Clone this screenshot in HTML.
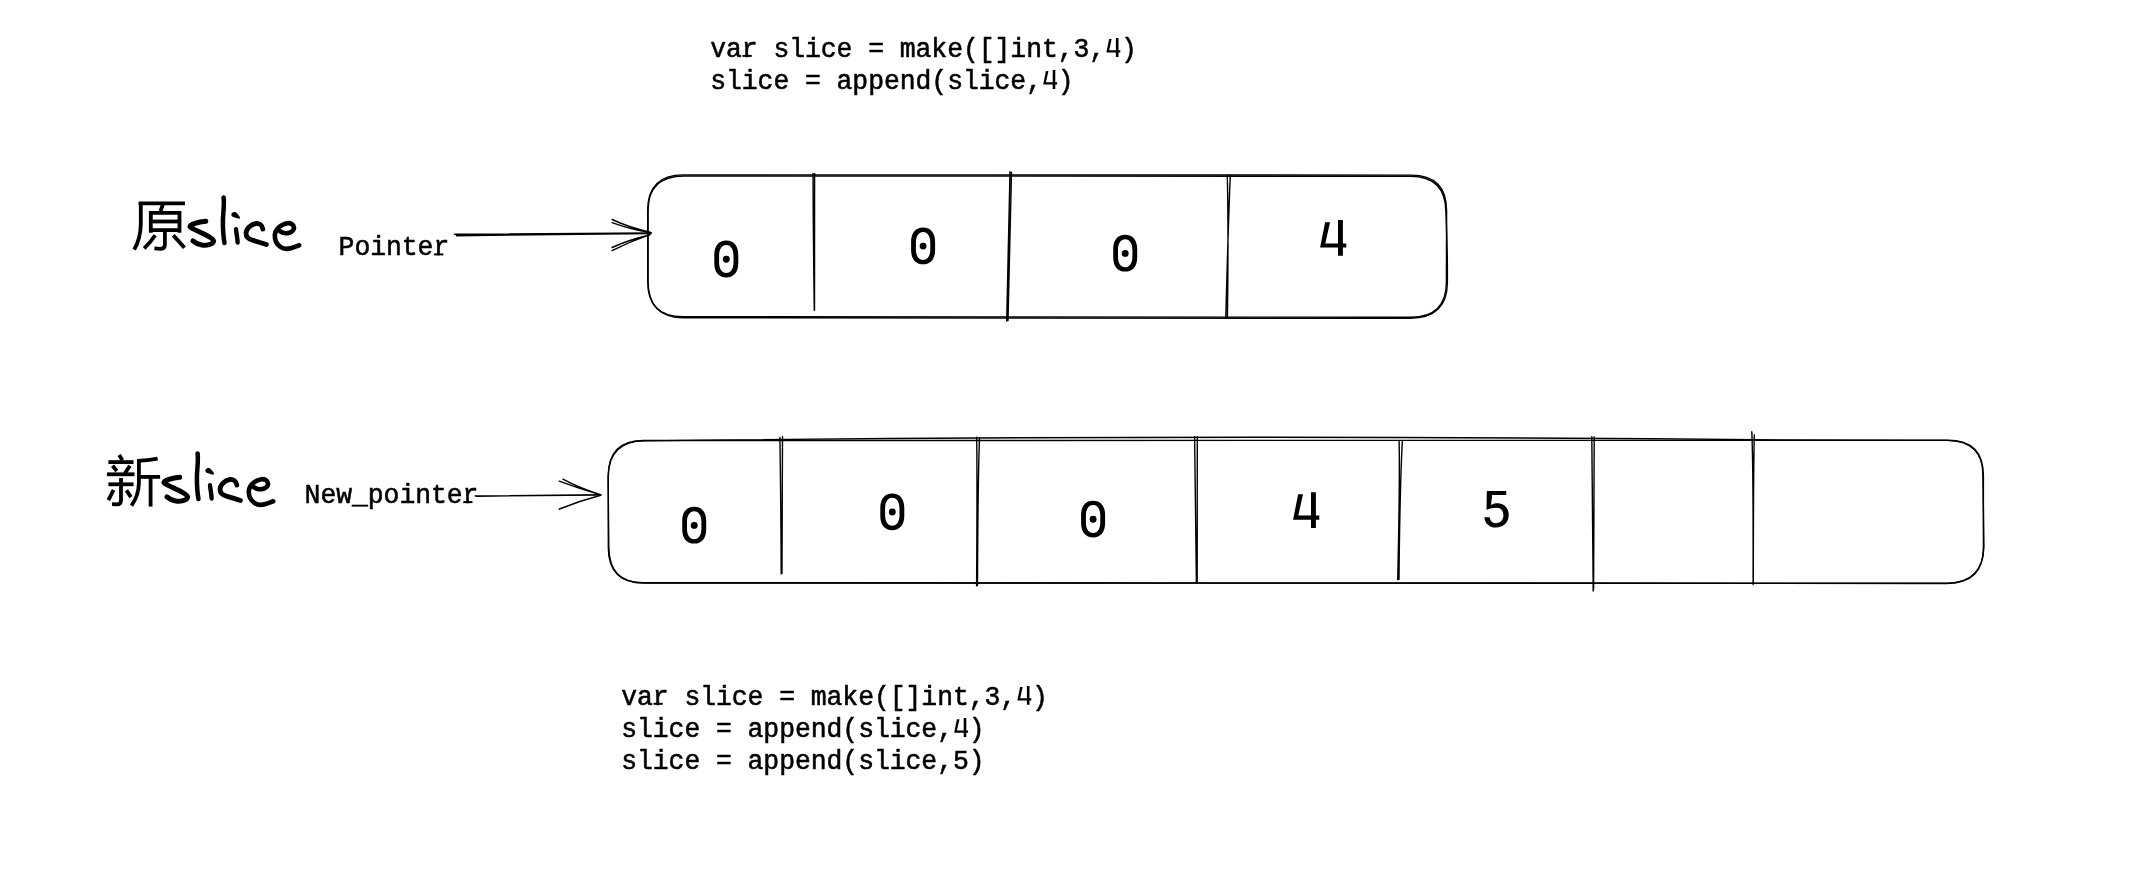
<!DOCTYPE html>
<html>
<head>
<meta charset="utf-8">
<title>slice append diagram</title>
<style>
  html, body { margin: 0; padding: 0; background: #ffffff; }
  body { width: 2138px; height: 879px; overflow: hidden; position: relative; font-family: "Liberation Mono", monospace; }
  svg { position: absolute; left: 0; top: 0; display: block; will-change: transform; }
  .code { font-family: "Liberation Mono", monospace; font-size: 26.45px; fill: #000; stroke: #000; stroke-width: 0.55px; stroke-linejoin: round; white-space: pre; letter-spacing: -0.07px; }
  .ln { fill: none; stroke: #000; stroke-width: 1.4; stroke-linecap: round; stroke-linejoin: round; }
  .hw { fill: none; stroke: #000; stroke-width: 4.3; stroke-linecap: round; stroke-linejoin: round; }
  .cjk { fill: none; stroke: #000; stroke-width: 3.8; stroke-linecap: butt; stroke-linejoin: miter; }
  .dg { fill: none; stroke: #000; stroke-width: 4.6; stroke-linecap: butt; stroke-linejoin: miter; }
</style>
</head>
<body>
<svg width="2138" height="879" viewBox="0 0 2138 879">
  <defs>
    <!-- dotted zero, centred on 0,0 -->
    <g id="zero">
      <path fill="#000" fill-rule="evenodd" d="M0,-18.4 C7.3,-18.4 12,-13.4 12,-4 L12,4 C12,13.4 7.3,18.4 0,18.4 C-7.3,18.4 -12,13.4 -12,4 L-12,-4 C-12,-13.4 -7.3,-18.4 0,-18.4 Z M0,-14 C4.6,-14 7.2,-9.5 7.2,-3.5 L7.2,3.5 C7.2,9.5 4.6,14 0,14 C-4.6,14 -7.2,9.5 -7.2,3.5 L-7.2,-3.5 C-7.2,-9.5 -4.6,-14 0,-14 Z"/>
      <circle cx="0" cy="0.2" r="3.45" fill="#000"/>
    </g>
    <!-- open four; origin = top-left of vertical stroke -->
    <g id="four">
      <path fill="#000" d="M-12.85,2.05 L-7.97,2.05 L-12.7,23.3 L0,23.3 L0,0 L4.9,0 L4.9,23.3 L8.3,23.3 L8.3,27.5 L4.9,27.5 L4.9,35.7 L0,35.7 L0,27.5 L-17.9,27.5 Z"/>
    </g>
    <!-- five; origin = (1474,485) crop origin -->
    <g id="five">
      <path fill="#000" d="M12.83,6.07 L32.23,6.07 L32.23,10.01 L18.15,10.01 L17.02,20.03 C18.77,18.77 20.96,18.15 23.15,18.15 C30.04,18.15 34.73,23.15 34.73,30.04 C34.73,37.55 29.41,42.55 21.90,42.55 C15.64,42.55 10.95,38.80 10.33,32.23 L15.64,32.23 C16.15,35.98 18.46,38.17 21.90,38.17 C26.28,38.17 29.41,35.36 29.41,30.35 C29.41,25.66 26.60,22.65 22.53,22.65 C18.77,22.65 15.64,23.47 12.52,24.72 Z"/>
    </g>
    <!-- handwritten "slice" ; coordinates are absolute for first label -->
    <g id="slice">
      <path class="hw" style="stroke-width:5" d="M205.8 221.2 C198 221.8 190.2 224.5 189.9 226.4 C190 229 213.3 236.5 213.6 241.2 C213.4 244.4 206 245.7 202 245.1 C198 244.4 194.8 242.6 192.9 240.9"/>
      <path class="hw" style="stroke-width:4.5" d="M223.6 197.4 C224.6 205 222.9 214 222.9 221 C222.9 230 223.5 238 224.5 243"/>
      <path fill="#000" d="M232.05,212.90 C233.55,211.40 235.80,211.77 236.93,213.27 C238.43,214.77 239.93,216.65 240.16,218.38 C238.80,218.90 235.80,218.15 233.55,217.03 C231.67,216.28 230.55,214.40 232.05,212.90 Z"/>
      <path class="hw" style="stroke-width:4.4" d="M236 229.2 C236.3 233 237.5 238 237.6 242.5"/>
      <path class="hw" style="stroke-width:4.8" d="M262.9 229.2 C262.5 225 259 223.2 256.2 223.5 C251 224 246 229 246 233.3 C246 237.5 249.5 239.5 253.1 240.4 C257 241.5 262 243 266.4 244.5"/>
      <path class="hw" style="stroke-width:4.6" d="M279.8 231.2 C283 233.5 287 233.5 289.5 232.8 C292.5 231.5 294.3 229.5 294 227.4 C293.5 224.5 290.5 222.8 287.5 223.2 C280.6 224.2 275.2 229.5 274.8 235 C274.6 240.2 276.8 244.4 280.4 246.9 C283.6 249.2 288.5 249.0 291.5 248.0 C294.5 247.1 297 246 299.2 245.3"/>
    </g>
  </defs>

  <!-- top code -->
  <text class="code" transform="translate(710.20 56.90) scale(1 1.035)" x="0" y="0">var slice = make([]int,3,<tspan x="410.80">)</tspan></text>
  <use href="#four" transform="translate(1115.90 38.00) scale(0.53)"/>
  <text class="code" transform="translate(710.20 88.90) scale(1 1.035)" x="0" y="0">slice = append(slice,<tspan x="347.60">)</tspan></text>
  <use href="#four" transform="translate(1052.70 70.00) scale(0.53)"/>

  <!-- bottom code -->
  <text class="code" transform="translate(621.20 704.80) scale(1 1.035)" x="0" y="0">var slice = make([]int,3,<tspan x="410.80">)</tspan></text>
  <use href="#four" transform="translate(1026.90 685.90) scale(0.53)"/>
  <text class="code" transform="translate(621.20 737.00) scale(1 1.035)" x="0" y="0">slice = append(slice,<tspan x="347.60">)</tspan></text>
  <use href="#four" transform="translate(963.70 718.10) scale(0.53)"/>
  <text class="code" transform="translate(621.20 769.30) scale(1 1.035)" x="0" y="0">slice = append(slice,5)</text>

  <!-- labels -->
  <text class="code" transform="translate(338.60 255.40) scale(1 1.035)" x="0" y="0">Pointer</text>
  <text class="code" transform="translate(304.60 503.10) scale(1 1.035)" x="0" y="0">New_pointer</text>

  <!-- slab feet on r (Cascadia-style) -->
  <g fill="#000">
    <rect x="742.5" y="54.9" width="9.2" height="2"/>
    <rect x="653.5" y="702.8" width="9.2" height="2"/>
    <rect x="434.1" y="253.4" width="9.2" height="2"/>
    <rect x="463.3" y="501.1" width="9.2" height="2"/>
  </g>

  <!-- box 1 -->
  <g id="box1">
    <path class="ln" d="M683.2 174.9 L1411.1 175.1 Q1446.6 175.1 1446.6 210.7 L1446.4 282 Q1446.4 317.2 1411 317.2 L683.2 316.6 Q647.7 316.8 647.7 281.5 L647.7 210.5 Q647.7 174.9 683.2 174.9"/>
    <path class="ln" d="M684 176.0 Q1050 175.6 1410.5 176.3 Q1445.6 176.5 1445.9 211.5 Q1447.6 250 1447.4 281.5 Q1447.6 318.2 1410 318.3 Q1040 319.6 684 317.7 Q648.4 317.9 648.1 282.2 L648.1 210 Q648.2 176.2 684 176.0"/>
    <path class="ln" d="M813.0 173.4 Q813.3 240 814.3 310.4 M814.6 173.6 Q814.6 240 814.5 310.2"/>
    <path class="ln" d="M1010.0 171.6 L1006.7 321.1 M1011.5 172.2 L1008.0 320.5"/>
    <path class="ln" d="M1227.3 175.3 Q1228.6 230 1227.4 317.9 M1230.3 175.3 Q1228.2 225 1225.8 317.6"/>
  </g>
  <use href="#zero" x="726.3" y="259"/>
  <use href="#zero" x="923.1" y="245.9"/>
  <use href="#zero" x="1125.2" y="253.2"/>
  <use href="#four" x="1338" y="220.1"/>

  <!-- arrow 1 -->
  <path class="ln" d="M454.5 234.3 L651.4 232.9 M456.3 235.7 L651 233.5"/>
  <path class="ln" d="M612.1 219.5 Q630 227.8 650.8 232.4 M612.1 222.7 Q630 229.4 650.6 232.8"/>
  <path class="ln" d="M612.1 247.5 Q630 239.4 649.8 235.0 M612.1 250.7 Q630 241.4 650 234.6"/>

  <!-- box 2 -->
  <g id="box2">
    <path class="ln" d="M643.8 440.5 L1947.9 440.3 Q1983.4 440.3 1983.4 475.8 L1983.4 547.6 Q1983.4 583.1 1947.9 583.1 L643.8 583 Q608.3 583 608.3 547.5 L608.3 476 Q608.3 440.5 643.8 440.5"/>
    <path class="ln" d="M644.5 440.9 C1030 436.2 1420 436.2 1790 440.0 L1947 440.4 Q1983.6 440.8 1982.9 476.5 L1983.9 547 Q1983 582.6 1947 583.5 L644.5 582.7 Q609 583.5 608.8 547 L608.1 476.5 Q608.8 441 644.5 440.9"/>
    <path class="ln" d="M779.9 437.4 Q780.9 500 781.2 573.9 M782.5 436.4 Q782.1 500 782.0 573.4"/>
    <path class="ln" d="M976.7 437.3 Q977.3 480 976.6 585.9 M979.5 437.6 Q977.9 480 977.5 585.2"/>
    <path class="ln" d="M1194.6 436.6 L1196.4 582.8 M1197.3 437 L1197.2 582.4"/>
    <path class="ln" d="M1399.1 441.4 Q1400 480 1397.7 579.7 M1402.3 441.6 Q1399.8 490 1399 579.2"/>
    <path class="ln" d="M1591.8 436.6 Q1592.2 510 1593.2 591.0 M1594.2 437 Q1593.8 510 1593.6 589"/>
    <path class="ln" d="M1751.8 431.8 Q1753.4 470 1753.1 584.6 M1754.3 434.7 Q1753.4 470 1753.3 584"/>
  </g>
  <use href="#zero" x="694.2" y="525.2"/>
  <use href="#zero" x="892.3" y="511.8"/>
  <use href="#zero" x="1093.1" y="519.1"/>
  <use href="#four" x="1311" y="492.2"/>
  <use href="#five" x="1474" y="485"/>

  <!-- arrow 2 -->
  <path class="ln" d="M475 495.9 L601.1 494.8 M476.2 496.2 L600.6 495.0"/>
  <path class="ln" d="M559.2 481.1 Q579 488.6 600.7 494.8 M562.9 479.2 Q580 488.4 600.5 494.6"/>
  <path class="ln" d="M559.2 509.2 Q580 500.6 600.7 495.2 M559.4 509.0 Q580 500.9 600.5 495.4"/>

  <!-- 原slice -->
  <g id="yuan">
    <path class="cjk" d="M138.6 203.4 L185 203.4"/>
    <path class="cjk" d="M140.8 203.4 L140.8 224 Q140.6 238.5 134.2 249.6"/>
    <path class="cjk" d="M162.9 204.5 L160.5 211.2"/>
    <path class="cjk" d="M150.8 232.8 L150.8 212.8 L179.5 212.8 L179.5 232.8"/>
    <path class="cjk" d="M150.8 221.5 L179.5 221.5"/>
    <path class="cjk" d="M150.8 230.1 L179.5 230.1"/>
    <path class="cjk" d="M164.9 230.1 L164.9 244.6 Q164.9 248.9 160.6 248.9 L154.4 248.4"/>
    <path class="cjk" d="M155.2 235.2 Q150.5 242.3 144.2 248.4"/>
    <path class="cjk" d="M173.2 235.4 Q178.6 241 184.4 247.8"/>
  </g>
  <use href="#slice"/>

  <!-- 新slice -->
  <g id="xin">
    <path class="cjk" d="M119.2 455 L122.4 460.2"/>
    <path class="cjk" d="M108.4 462.1 L133.5 462.1"/>
    <path class="cjk" d="M112.5 465.8 L116.8 471"/>
    <path class="cjk" d="M129.9 465.8 L124.8 473.5"/>
    <path class="cjk" d="M106.9 474.3 L134.5 474.3"/>
    <path class="cjk" d="M108.4 484.3 L133.5 484.3"/>
    <path class="cjk" d="M121 478.1 L121 500 Q121 504.4 117 504.4 L112 504.2"/>
    <path class="cjk" d="M113.6 489.9 L108.4 500.1"/>
    <path class="cjk" d="M126.4 490.4 L131 497.1"/>
    <path class="cjk" d="M157.6 458.6 Q148 460.4 137.2 460.9"/>
    <path class="cjk" d="M138.9 459.2 L138.9 483.3 Q138.5 496 131.5 505.6"/>
    <path class="cjk" d="M138.9 476.9 L160.1 476.9"/>
    <path class="cjk" d="M150.6 476.9 L150.6 506.6"/>
  </g>
  <use href="#slice" transform="translate(-26 256)"/>
</svg>
</body>
</html>
